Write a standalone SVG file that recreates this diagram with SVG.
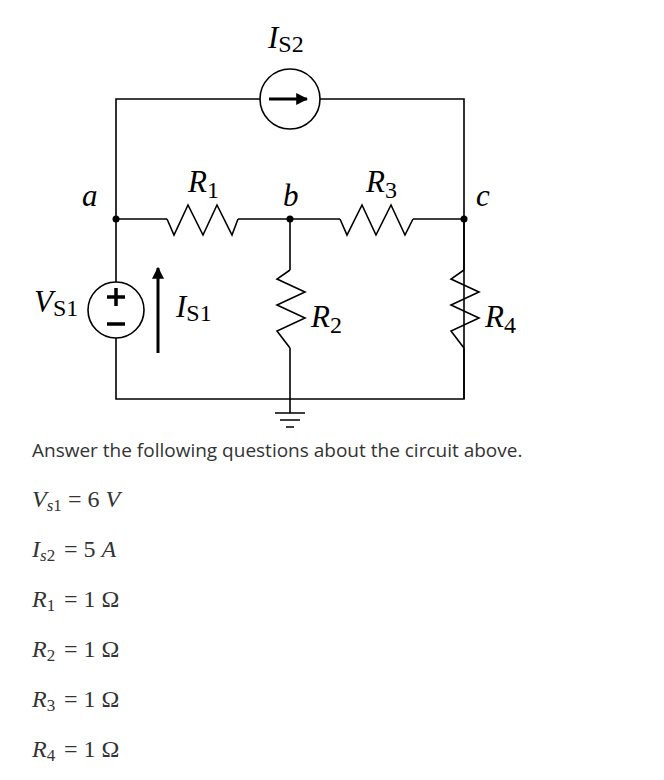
<svg xmlns="http://www.w3.org/2000/svg" width="664" height="780" viewBox="0 0 664 780">
<style>
.w{fill:none;stroke:#000;stroke-width:1.6}
.c{fill:#fff;stroke:#000;stroke-width:1.6}
.lab{font-family:"Liberation Serif",serif;font-style:italic;font-size:31px;fill:#000}
.sub{font-family:"Liberation Serif",serif;font-size:24px;font-style:normal}
.txt{font-family:"Open Sans",sans-serif;font-size:19px;fill:#333}
.m{font-family:"Liberation Serif",serif;font-size:24px;fill:#333}
.mi{font-style:italic}
.ms{font-size:17px}
</style>
<defs>
<marker id="ah" viewBox="0 0 10 10" refX="9" refY="5" markerWidth="4" markerHeight="4" orient="auto-start-reverse"><path d="M0,0 L10,5 L0,10 z" fill="#000"/></marker>
</defs>
<g id="connectors">
<path class="w" d="M260,99 H116 V282 M116,338 V399 H464 V99 H320"/>
<path class="w" d="M116,219 H167 M238,219 H340 M413,219 H464"/>
<path class="w" d="M290,219 V270 M290,348 V413 M464,219 V270 M464,348 V399"/>
<path class="w" d="M275,413 H305 M280,420 H300 M286,427 H294"/>
</g>
<g id="R1"><path class="w" d="M167,219 L174,235 L188,205 L203,235 L217,205 L232,235 L238,219"/><text class="lab" x="188" y="192">R<tspan class="sub" dy="6">1</tspan></text></g>
<g id="R3"><path class="w" d="M340,219 L347,235 L362,205 L376,235 L391,205 L405,235 L413,219"/><text class="lab" x="366" y="192">R<tspan class="sub" dy="6">3</tspan></text></g>
<g id="R2"><path class="w" d="M290,270 L277,279 L305,292 L277,305 L305,318 L277,331 L290,348"/><text class="lab" x="311" y="327">R<tspan class="sub" dy="6">2</tspan></text></g>
<g id="R4"><path class="w" d="M464,270 L451,279 L479,292 L451,305 L479,318 L451,331 L464,348"/><text class="lab" x="485" y="327">R<tspan class="sub" dy="6">4</tspan></text></g>
<g id="Is2"><circle class="c" cx="290" cy="99" r="30"/><line x1="269" y1="99" x2="307" y2="99" stroke="#000" stroke-width="3" marker-end="url(#ah)"/><text class="lab" x="268" y="48">I<tspan class="sub" dy="4">S2</tspan></text></g>
<g id="Vs1"><circle class="c" cx="116" cy="310" r="28"/><path d="M107,297 H125 M116,288 V306 M107,324 H125" stroke="#000" stroke-width="3.5"/><text class="lab" x="34" y="312">V<tspan class="sub" dy="4">S1</tspan></text></g>
<g id="Is1"><line x1="158" y1="353" x2="158" y2="268" stroke="#000" stroke-width="3" marker-end="url(#ah)"/><text class="lab" x="176" y="317">I<tspan class="sub" dy="4">S1</tspan></text></g>
<g id="nodes">
<circle cx="116" cy="219" r="3.5"/><circle cx="290" cy="219" r="3.5"/><circle cx="464" cy="219" r="3.5"/>
<text class="lab" x="82" y="206">a</text><text class="lab" x="283" y="206">b</text><text class="lab" x="476" y="206">c</text>
</g>
<g id="text">
<text class="txt" x="32" y="457">Answer the following questions about the circuit above.</text>
<text class="m" x="32" y="507"><tspan class="mi">V</tspan><tspan class="ms mi" dy="4">s</tspan><tspan class="ms">1</tspan><tspan dy="-4" x="68">= 6 </tspan><tspan class="mi">V</tspan></text>
<text class="m" x="32" y="557"><tspan class="mi">I</tspan><tspan class="ms mi" dy="4">s</tspan><tspan class="ms">2</tspan><tspan dy="-4" x="64">= 5 </tspan><tspan class="mi">A</tspan></text>
<text class="m" x="32" y="607"><tspan class="mi">R</tspan><tspan class="ms" dy="4">1</tspan><tspan dy="-4" x="64">= 1 Ω</tspan></text>
<text class="m" x="32" y="657"><tspan class="mi">R</tspan><tspan class="ms" dy="4">2</tspan><tspan dy="-4" x="64">= 1 Ω</tspan></text>
<text class="m" x="32" y="707"><tspan class="mi">R</tspan><tspan class="ms" dy="4">3</tspan><tspan dy="-4" x="64">= 1 Ω</tspan></text>
<text class="m" x="32" y="757"><tspan class="mi">R</tspan><tspan class="ms" dy="4">4</tspan><tspan dy="-4" x="64">= 1 Ω</tspan></text>
</g>
</svg>
